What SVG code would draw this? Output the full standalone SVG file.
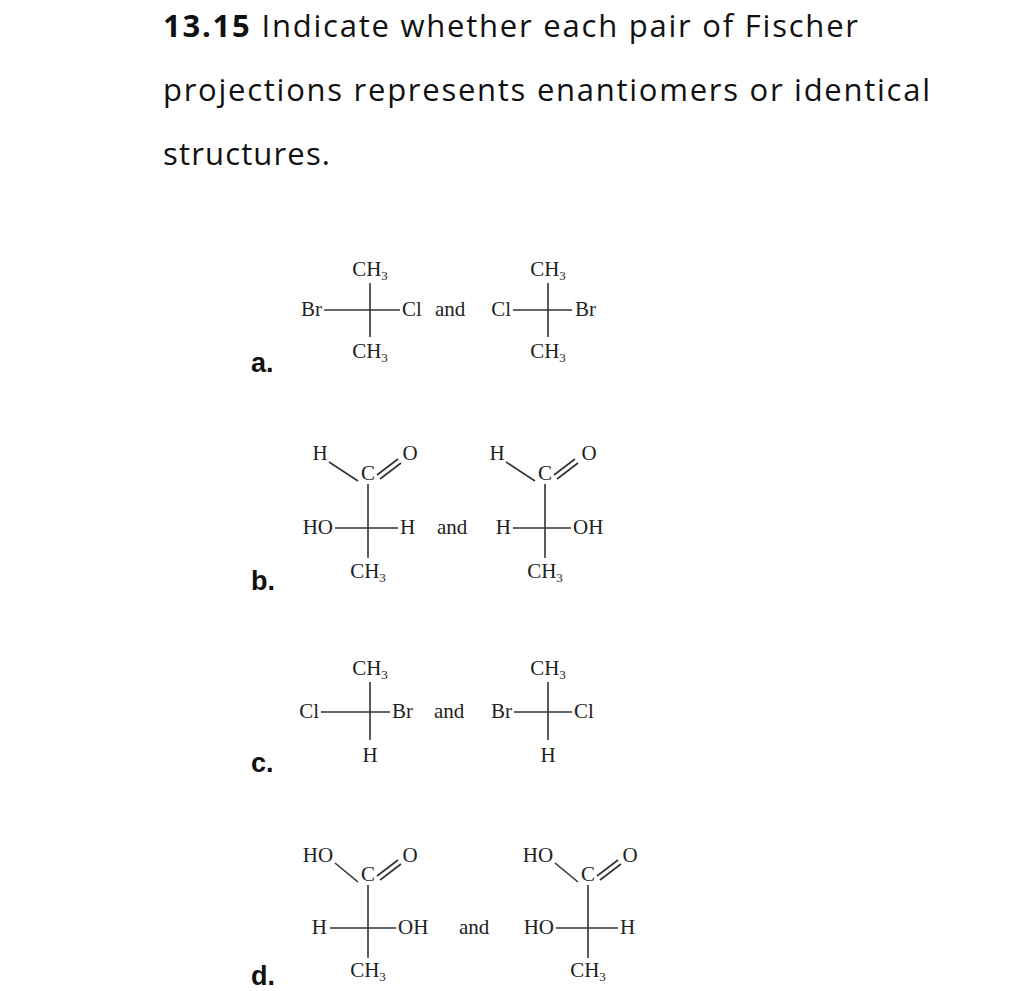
<svg xmlns="http://www.w3.org/2000/svg" width="1033" height="991" viewBox="0 0 1033 991">
<style>
.t{font-family:"Open Sans","Liberation Sans",sans-serif;font-size:31px;fill:#111}
.l{font-family:"Liberation Sans",sans-serif;font-size:27px;font-weight:bold;fill:#111}
.s{font-family:"Liberation Serif",serif;font-size:21px;fill:#222}
.m{text-anchor:middle}
.e{text-anchor:end}
line{stroke:#333;stroke-width:1.6}
</style>
<rect width="1033" height="991" fill="#fff"/>
<g id="title">
<text class="t" x="163" y="37" textLength="695" lengthAdjust="spacing"><tspan font-weight="bold">13.15</tspan> Indicate whether each pair of Fischer</text>
<text class="t" x="163" y="101" textLength="767" lengthAdjust="spacing">projections represents enantiomers or identical</text>
<text class="t" x="163" y="165" textLength="167" lengthAdjust="spacing">structures.</text>
</g>
<g id="labels">
<text class="l" x="251" y="372">a.</text>
<text class="l" x="251" y="590">b.</text>
<text class="l" x="251" y="772">c.</text>
<text class="l" x="251" y="985">d.</text>
</g>
<g id="a">
<text class="s m" x="370" y="276">CH<tspan font-size="13" dy="4">3</tspan></text>
<text class="s e" x="322" y="316">Br</text>
<text class="s" x="402" y="316">Cl</text>
<text class="s m" x="370" y="358">CH<tspan font-size="13" dy="4">3</tspan></text>
<text class="s" x="435" y="316">and</text>
<text class="s m" x="548" y="276">CH<tspan font-size="13" dy="4">3</tspan></text>
<text class="s e" x="511" y="316">Cl</text>
<text class="s" x="575" y="316">Br</text>
<text class="s m" x="548" y="358">CH<tspan font-size="13" dy="4">3</tspan></text>
</g>
<g id="b">
<text class="s m" x="320" y="460">H</text><text class="s m" x="410" y="460">O</text>
<text class="s m" x="368" y="480" font-size="17">C</text>
<text class="s e" x="333" y="534">HO</text><text class="s" x="400" y="534">H</text>
<text class="s m" x="368" y="578">CH<tspan font-size="13" dy="4">3</tspan></text>
<text class="s" x="437" y="534">and</text>
<text class="s m" x="497" y="460">H</text><text class="s m" x="589" y="460">O</text>
<text class="s m" x="545" y="480" font-size="17">C</text>
<text class="s e" x="511" y="534">H</text><text class="s" x="573" y="534">OH</text>
<text class="s m" x="545" y="578">CH<tspan font-size="13" dy="4">3</tspan></text>
</g>
<g id="c">
<text class="s m" x="370" y="675">CH<tspan font-size="13" dy="4">3</tspan></text>
<text class="s e" x="319" y="718">Cl</text><text class="s" x="392" y="718">Br</text>
<text class="s m" x="370" y="762">H</text>
<text class="s" x="434" y="718">and</text>
<text class="s m" x="548" y="675">CH<tspan font-size="13" dy="4">3</tspan></text>
<text class="s e" x="512" y="718">Br</text><text class="s" x="574" y="718">Cl</text>
<text class="s m" x="548" y="762">H</text>
</g>
<g id="d">
<text class="s m" x="318" y="862">HO</text><text class="s m" x="410" y="862">O</text>
<text class="s m" x="368" y="881" font-size="17">C</text>
<text class="s e" x="327" y="934">H</text><text class="s" x="398" y="934">OH</text>
<text class="s m" x="368" y="977">CH<tspan font-size="13" dy="4">3</tspan></text>
<text class="s" x="459" y="934">and</text>
<text class="s m" x="538" y="862">HO</text><text class="s m" x="630" y="862">O</text>
<text class="s m" x="588" y="881" font-size="17">C</text>
<text class="s e" x="554" y="934">HO</text><text class="s" x="620" y="934">H</text>
<text class="s m" x="588" y="977">CH<tspan font-size="13" dy="4">3</tspan></text>
</g>
<g id="connectors">
<line x1="370" y1="283" x2="370" y2="337"/><line x1="324" y1="310" x2="400" y2="310"/>
<line x1="548" y1="283" x2="548" y2="337"/><line x1="513" y1="310" x2="572" y2="310"/>
<line x1="329" y1="462" x2="358" y2="481"/><line x1="377" y1="475" x2="398" y2="459"/><line x1="380" y1="479" x2="401" y2="463"/>
<line x1="368" y1="484" x2="368" y2="558"/><line x1="335" y1="528" x2="398" y2="528"/>
<line x1="506" y1="462" x2="535" y2="481"/><line x1="554" y1="475" x2="575" y2="459"/><line x1="557" y1="479" x2="578" y2="463"/>
<line x1="545" y1="484" x2="545" y2="558"/><line x1="513" y1="528" x2="571" y2="528"/>
<line x1="370" y1="682" x2="370" y2="740"/><line x1="321" y1="712" x2="390" y2="712"/>
<line x1="548" y1="682" x2="548" y2="740"/><line x1="514" y1="712" x2="572" y2="712"/>
<line x1="335" y1="863" x2="358" y2="882"/><line x1="377" y1="876" x2="398" y2="860"/><line x1="380" y1="880" x2="401" y2="864"/>
<line x1="368" y1="885" x2="368" y2="958"/><line x1="330" y1="928" x2="396" y2="928"/>
<line x1="555" y1="863" x2="578" y2="882"/><line x1="597" y1="876" x2="618" y2="860"/><line x1="600" y1="880" x2="621" y2="864"/>
<line x1="588" y1="885" x2="588" y2="958"/><line x1="556" y1="928" x2="618" y2="928"/>
</g>
</svg>
